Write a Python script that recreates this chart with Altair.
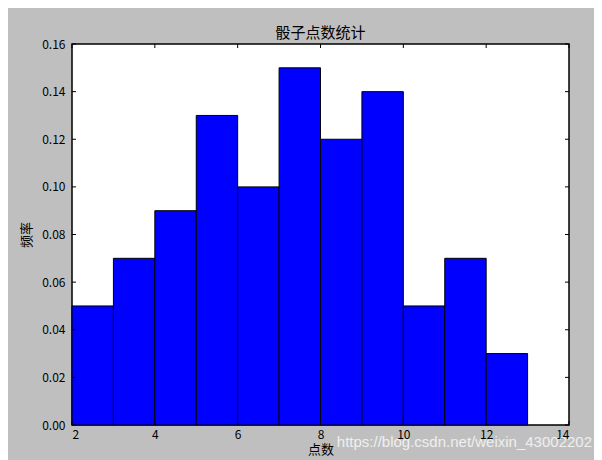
import altair as alt
import pandas as pd

bin_start = [2, 3, 4, 5, 6, 7, 8, 9, 10, 11, 12]
bin_end = [3, 4, 5, 6, 7, 8, 9, 10, 11, 12, 13]
freq = [0.05, 0.07, 0.09, 0.13, 0.10, 0.15, 0.12, 0.14, 0.05, 0.07, 0.03]
x_ticks = [2, 4, 6, 8, 10, 12, 14]
y_ticks = [0.0, 0.02, 0.04, 0.06, 0.08, 0.10, 0.12, 0.14, 0.16]

W, H = 497, 381
FONT = "Noto Sans CJK SC"

df = pd.DataFrame({"start": bin_start, "end": bin_end, "freq": freq})
dx = pd.DataFrame({"t": x_ticks})
dy = pd.DataFrame({"t": y_ticks})

xs = alt.Scale(domain=[2, 14], nice=False, zero=False)
ys = alt.Scale(domain=[0, 0.16], nice=False)

bars = alt.Chart(df).mark_rect(color="#0000ff", stroke="black", strokeWidth=1).encode(
    x=alt.X("start:Q", scale=xs,
            axis=alt.Axis(values=x_ticks, format="d", title="点数", tickSize=0,
                          labelPadding=4, titlePadding=3, domain=False, grid=False)),
    x2="end:Q",
    y=alt.Y("freq:Q", scale=ys,
            axis=alt.Axis(values=y_ticks, format=".2f", title="频率", tickSize=0,
                          labelPadding=7, titlePadding=8, domain=False, grid=False)),
    y2=alt.datum(0),
)

tick_len = 4
xb = alt.Chart(dx).mark_rule(color="black").encode(
    x=alt.X("t:Q", scale=xs), y=alt.value(H), y2=alt.value(H - tick_len))
xt = alt.Chart(dx).mark_rule(color="black").encode(
    x=alt.X("t:Q", scale=xs), y=alt.value(0), y2=alt.value(tick_len))
yl = alt.Chart(dy).mark_rule(color="black").encode(
    y=alt.Y("t:Q", scale=ys), x=alt.value(0), x2=alt.value(tick_len))
yr = alt.Chart(dy).mark_rule(color="black").encode(
    y=alt.Y("t:Q", scale=ys), x=alt.value(W), x2=alt.value(W - tick_len))

wm = alt.Chart(pd.DataFrame({"s": ["https://blog.csdn.net/weixin_43002202"]})).mark_text(
    align="right", baseline="middle", font="Liberation Sans", fontSize=15,
    color="white", opacity=0.75).encode(
    text="s:N", x=alt.value(520), y=alt.value(398))

chart = alt.layer(bars, xb, xt, yl, yr, wm).properties(
    width=W, height=H,
    title=alt.TitleParams("骰子点数统计", font=FONT, fontSize=15, fontWeight="normal",
                          color="black", offset=-3),
    background="#bfbfbf",
    autosize=alt.AutoSizeParams(type="none"),
    padding={"left": 64, "top": 36, "right": 25, "bottom": 35},
).configure_view(fill="white", stroke="black", strokeWidth=1.5).configure_axis(
    labelFont=FONT, labelFontSize=12, labelColor="black",
    titleFont=FONT, titleFontSize=13, titleFontWeight="normal", titleColor="black",
)

chart.save("out.html", embed_options={"renderer": "svg", "actions": False})
